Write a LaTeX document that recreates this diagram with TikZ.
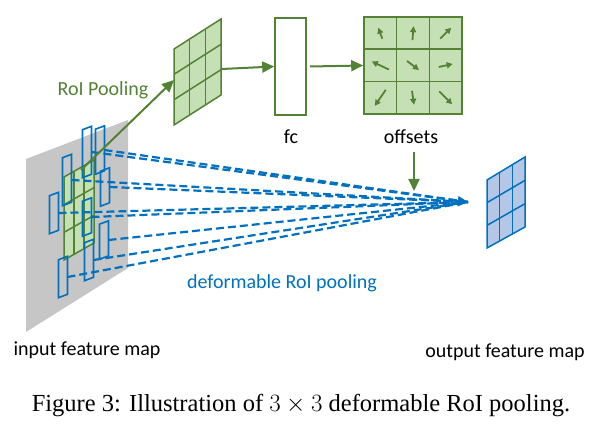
\documentclass[tikz,border=0pt]{standalone}
\usepackage{fontspec}
\setmainfont{Liberation Serif}
\newfontfamily\carlitofont{Carlito}
\usetikzlibrary{arrows.meta}
\definecolor{gline}{HTML}{548235}
\definecolor{gfill}{HTML}{C5E0B4}
\definecolor{bline}{HTML}{0070C0}
\definecolor{bfill}{HTML}{B4C7E7}
\begin{document}
\begin{tikzpicture}[x=1pt,y=-1pt,
  garr/.style={gline,line width=2pt,-{Triangle[length=12pt,width=11pt]}},
  sarr/.style={gline,line width=1.8pt,-{Triangle[length=6pt,width=6pt]}},
  brect/.style={bline,line width=1.6pt},
  bdash/.style={bline,line width=2.2pt,dash pattern=on 8pt off 4pt},
  lab/.style={font=\carlitofont\fontsize{20}{24}\selectfont}]
\useasboundingbox (0,0) rectangle (604,427);
% gray plane
\fill[gray!45] (26,159) -- (128,120) -- (128,268) -- (26,332) -- cycle;
% green grid on plane
\draw[gline,fill=gfill,line width=1.5pt] (64,177) -- (94,160) -- (94,243) -- (64,260) -- cycle;
\foreach \t in {0.333,0.667}{
  \draw[gline,line width=1.5pt] (64+30*\t,177-17*\t) -- (64+30*\t,260-17*\t);
  \draw[gline,line width=1.5pt] (64,177+83*\t) -- (94,160+83*\t);}
% blue rects
\coordinate (conv) at (468,202);
\foreach \cx/\cy/\h [count=\i] in {67/180/48, 87/152/48, 100/150/45, 54/213/38, 87/217/35, 105/187/35, 63/277/38, 89/260/38, 104/240/35}{
  \draw[brect] (\cx-4.5,\cy-\h/2+1.7) -- (\cx+4.5,\cy-\h/2-1.7) -- (\cx+4.5,\cy+\h/2-1.7) -- (\cx-4.5,\cy+\h/2+1.7) -- cycle;
  \coordinate (r\i) at (\cx+4.5,\cy);
  \draw[bdash] (r\i) -- (conv);}
\draw[bline,-{Triangle[length=10pt,width=10pt]},line width=2pt] (455,201) -- (conv);
% RoI pooling arrow
\coordinate (roi) at (81,170);
\coordinate (sg) at (174,80);
\draw[garr] (roi) -- (sg);
\node[lab,text=gline] (roilab) at (103,90) {RoI Pooling};
% small green grid
\draw[gline,fill=gfill,line width=1.5pt] (174,49) -- (221,19) -- (221,95) -- (174,125) -- cycle;
\foreach \t in {0.333,0.667}{
  \draw[gline,line width=1.5pt] (174+47*\t,49-30*\t) -- (174+47*\t,125-30*\t);
  \draw[gline,line width=1.5pt] (174,49+76*\t) -- (221,19+76*\t);}
% fc
\node[draw=gline,line width=1.6pt,minimum width=31pt,minimum height=97pt,inner sep=0pt] (fc) at (290.5,66.5) {};
\node[lab] (fclab) at (291,137) {fc};
\draw[garr] (222,69) -- (fc.west);
% offsets
\node[draw=gline,fill=gfill,line width=1.6pt,minimum width=98pt,minimum height=97pt,inner sep=0pt] (off) at (413,65.5) {};
\foreach \t in {0.333,0.667}{
  \draw[gline,line width=1.6pt] (364+98*\t,17) -- (364+98*\t,114);
  \draw[gline,line width=1.6pt] (364,17+97*\t) -- (462,17+97*\t);}
\draw[garr] (fc.east) ++(3,0) -- (off.west);
\foreach \c/\r/\dx/\dy in {0/0/-4/-11, 1/0/1/-14, 2/0/11/-11, 0/1/-17/-8, 1/1/12/9, 2/1/14/-3, 0/2/-11/16, 1/2/2/14, 2/2/13/13}{
  \draw[sarr] (380.3+32.7*\c-\dx/2,33.2+32.3*\r-\dy/2) -- ++(\dx,\dy);}
\node[lab] (offlab) at (411,137) {offsets};
\draw[garr] (414,152) -- (414,191);
% output grid
\draw[bline,fill=bfill,line width=1.5pt] (487,180) -- (525,157) -- (525,227) -- (487,248) -- cycle;
\foreach \t in {0.333,0.667}{
  \draw[bline,line width=1.5pt] (487+38*\t,180-23*\t) -- (487+38*\t,248-21*\t);
  \draw[bline,line width=1.5pt] (487,180+68*\t) -- (525,157+70*\t);}
% labels
\node[lab,text=bline] (dlab) at (282,283) {deformable RoI pooling};
\node[lab] (inlab) at (87,350) {input feature map};
\node[lab] (outlab) at (505,352) {output feature map};
\node[font=\fontsize{24.5}{28}\selectfont] (cap) at (301,406) {Figure 3: Illustration of $3\times3$ deformable RoI pooling.};
\end{tikzpicture}
\end{document}
